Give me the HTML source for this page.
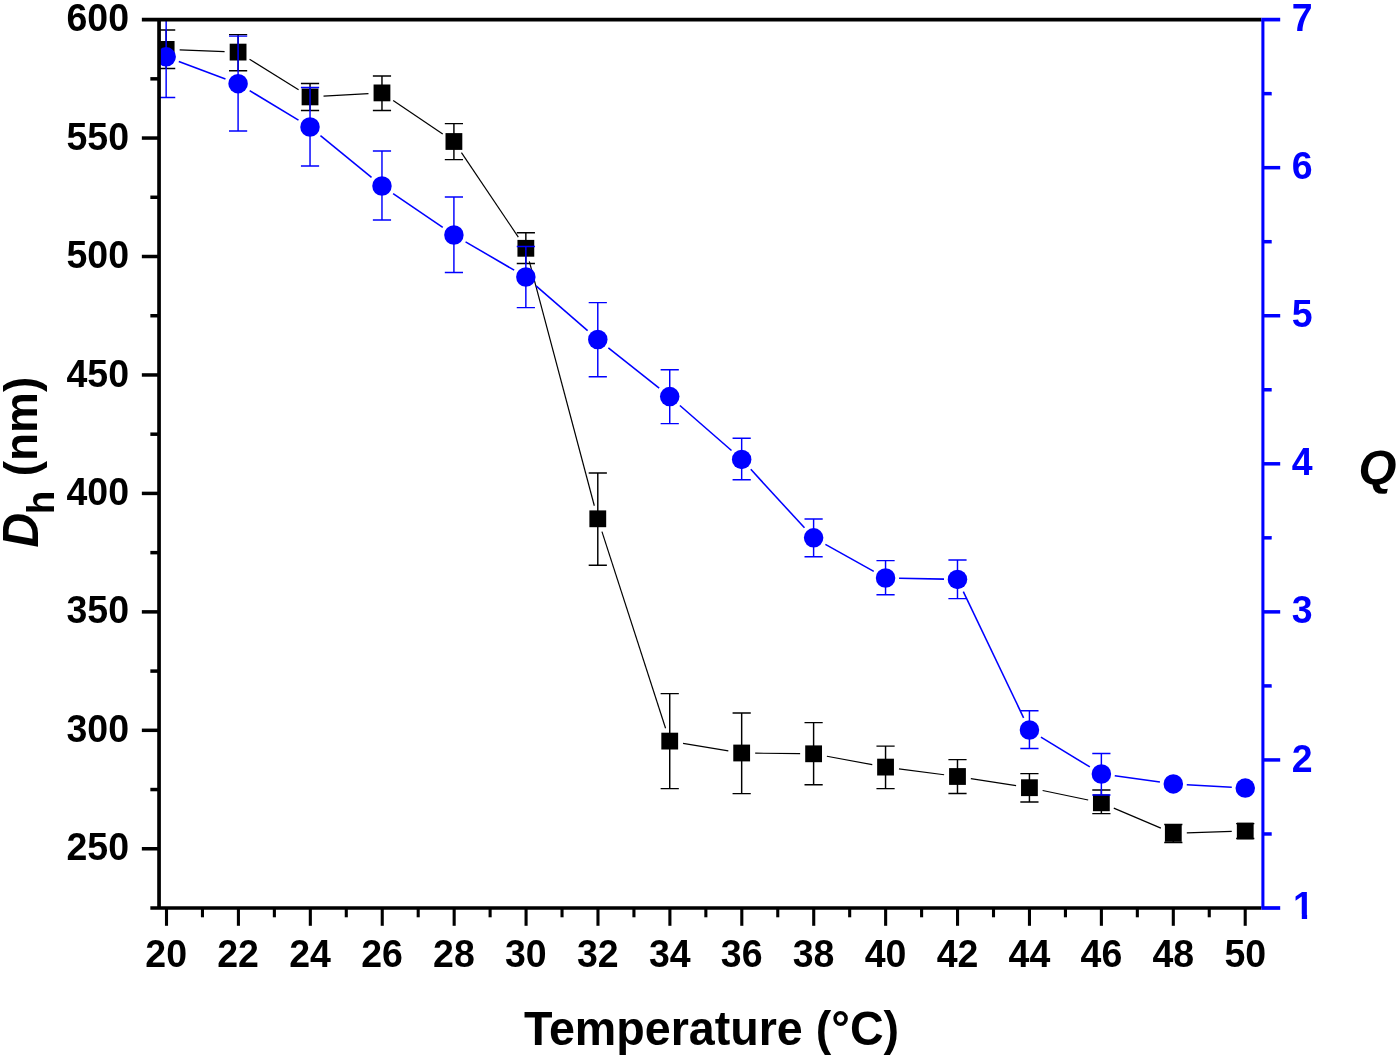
<!DOCTYPE html>
<html lang="en"><head><meta charset="utf-8"><title>Dh and Q versus Temperature</title>
<style>
html,body{margin:0;padding:0;background:#fff;}
body{width:1400px;height:1057px;overflow:hidden;}
svg{display:block;}
text{font-family:'Liberation Sans', Arial, Helvetica, sans-serif;font-weight:bold;}
.tk{font-size:37.5px;}
.ti{font-size:46px;}
</style></head><body>
<svg width="1400" height="1057" viewBox="0 0 1400 1057">
<rect width="1400" height="1057" fill="#fff"/>
<defs><clipPath id="one"><path d="M1285 880H1325V914.6H1307.1V925H1301.8V914.6H1285Z"/></clipPath><clipPath id="plot"><rect x="159.05" y="19.60" width="1103.95" height="888.40"/></clipPath></defs>
<g clip-path="url(#plot)" stroke="#000" fill="#000">
<line x1="179.64" y1="49.91" x2="224.60" y2="51.59" stroke-width="1.20"/>
<line x1="249.55" y1="59.24" x2="298.57" y2="89.76" stroke-width="1.20"/>
<line x1="323.51" y1="96.15" x2="368.49" y2="93.65" stroke-width="1.20"/>
<line x1="393.16" y1="100.46" x2="442.72" y2="133.94" stroke-width="1.20"/>
<line x1="461.45" y1="152.70" x2="518.31" y2="237.10" stroke-width="1.20"/>
<line x1="529.32" y1="261.35" x2="594.32" y2="505.75" stroke-width="1.20"/>
<line x1="601.95" y1="531.64" x2="665.57" y2="728.26" stroke-width="1.20"/>
<line x1="683.05" y1="743.30" x2="728.35" y2="750.80" stroke-width="1.20"/>
<line x1="755.17" y1="753.15" x2="800.11" y2="753.65" stroke-width="1.20"/>
<line x1="826.89" y1="756.25" x2="872.27" y2="764.65" stroke-width="1.20"/>
<line x1="898.94" y1="768.85" x2="944.10" y2="774.75" stroke-width="1.20"/>
<line x1="970.83" y1="778.58" x2="1016.09" y2="785.62" stroke-width="1.20"/>
<line x1="1042.64" y1="790.47" x2="1088.16" y2="800.03" stroke-width="1.20"/>
<line x1="1113.79" y1="808.08" x2="1160.89" y2="828.12" stroke-width="1.20"/>
<line x1="1186.80" y1="832.95" x2="1231.76" y2="831.45" stroke-width="1.20"/>
<path d="M166.15 29.90V68.50M157.05 29.90H175.25M157.05 68.50H175.25" fill="none" stroke-width="1.45"/>
<path d="M238.09 34.60V70.70M228.99 34.60H247.19M228.99 70.70H247.19" fill="none" stroke-width="1.45"/>
<path d="M310.03 83.40V110.40M300.93 83.40H319.13M300.93 110.40H319.13" fill="none" stroke-width="1.45"/>
<path d="M381.97 76.00V110.40M372.87 76.00H391.07M372.87 110.40H391.07" fill="none" stroke-width="1.45"/>
<path d="M453.91 123.60V159.60M444.81 123.60H463.01M444.81 159.60H463.01" fill="none" stroke-width="1.45"/>
<path d="M525.85 232.80V263.40M516.75 232.80H534.95M516.75 263.40H534.95" fill="none" stroke-width="1.45"/>
<path d="M597.79 473.00V565.20M588.69 473.00H606.89M588.69 565.20H606.89" fill="none" stroke-width="1.45"/>
<path d="M669.73 693.60V788.60M660.63 693.60H678.83M660.63 788.60H678.83" fill="none" stroke-width="1.45"/>
<path d="M741.67 713.00V793.60M732.57 713.00H750.77M732.57 793.60H750.77" fill="none" stroke-width="1.45"/>
<path d="M813.61 722.60V784.80M804.51 722.60H822.71M804.51 784.80H822.71" fill="none" stroke-width="1.45"/>
<path d="M885.55 746.10V788.60M876.45 746.10H894.65M876.45 788.60H894.65" fill="none" stroke-width="1.45"/>
<path d="M957.49 759.60V793.40M948.39 759.60H966.59M948.39 793.40H966.59" fill="none" stroke-width="1.45"/>
<path d="M1029.43 773.60V802.00M1020.33 773.60H1038.53M1020.33 802.00H1038.53" fill="none" stroke-width="1.45"/>
<path d="M1101.37 790.00V813.60M1092.27 790.00H1110.47M1092.27 813.60H1110.47" fill="none" stroke-width="1.45"/>
<path d="M1173.31 824.40V842.40M1164.21 824.40H1182.41M1164.21 842.40H1182.41" fill="none" stroke-width="1.45"/>
<path d="M1245.25 823.60V838.40M1236.15 823.60H1254.35M1236.15 838.40H1254.35" fill="none" stroke-width="1.45"/>
<rect x="157.75" y="41.00" width="16.80" height="16.80" stroke="none"/>
<rect x="229.69" y="43.70" width="16.80" height="16.80" stroke="none"/>
<rect x="301.63" y="88.50" width="16.80" height="16.80" stroke="none"/>
<rect x="373.57" y="84.50" width="16.80" height="16.80" stroke="none"/>
<rect x="445.51" y="133.10" width="16.80" height="16.80" stroke="none"/>
<rect x="517.45" y="239.90" width="16.80" height="16.80" stroke="none"/>
<rect x="589.39" y="510.40" width="16.80" height="16.80" stroke="none"/>
<rect x="661.33" y="732.70" width="16.80" height="16.80" stroke="none"/>
<rect x="733.27" y="744.60" width="16.80" height="16.80" stroke="none"/>
<rect x="805.21" y="745.40" width="16.80" height="16.80" stroke="none"/>
<rect x="877.15" y="758.70" width="16.80" height="16.80" stroke="none"/>
<rect x="949.09" y="768.10" width="16.80" height="16.80" stroke="none"/>
<rect x="1021.03" y="779.30" width="16.80" height="16.80" stroke="none"/>
<rect x="1092.97" y="794.40" width="16.80" height="16.80" stroke="none"/>
<rect x="1164.91" y="825.00" width="16.80" height="16.80" stroke="none"/>
<rect x="1236.85" y="822.60" width="16.80" height="16.80" stroke="none"/>
</g>
<g clip-path="url(#plot)" stroke="#0000ff" fill="#0000ff">
<line x1="178.79" y1="61.53" x2="225.45" y2="78.97" stroke-width="1.55"/>
<line x1="249.66" y1="90.66" x2="298.46" y2="120.04" stroke-width="1.55"/>
<line x1="320.47" y1="135.56" x2="371.53" y2="177.44" stroke-width="1.55"/>
<line x1="393.13" y1="193.60" x2="442.75" y2="227.40" stroke-width="1.55"/>
<line x1="465.57" y1="241.81" x2="514.19" y2="270.19" stroke-width="1.55"/>
<line x1="536.04" y1="285.85" x2="587.60" y2="330.65" stroke-width="1.55"/>
<line x1="608.36" y1="347.89" x2="659.16" y2="388.21" stroke-width="1.55"/>
<line x1="679.90" y1="405.48" x2="731.50" y2="450.52" stroke-width="1.55"/>
<line x1="750.80" y1="469.35" x2="804.48" y2="527.85" stroke-width="1.55"/>
<line x1="825.39" y1="544.39" x2="873.77" y2="571.41" stroke-width="1.55"/>
<line x1="899.05" y1="578.26" x2="943.99" y2="579.14" stroke-width="1.55"/>
<line x1="963.31" y1="591.58" x2="1023.61" y2="717.82" stroke-width="1.55"/>
<line x1="1040.95" y1="737.04" x2="1089.85" y2="766.96" stroke-width="1.55"/>
<line x1="1114.74" y1="775.84" x2="1159.94" y2="782.06" stroke-width="1.55"/>
<line x1="1186.79" y1="784.69" x2="1231.77" y2="787.31" stroke-width="1.55"/>
<path d="M166.15 16.10V97.50M157.05 16.10H175.25M157.05 97.50H175.25" fill="none" stroke-width="1.45"/>
<path d="M238.09 36.10V131.00M228.99 36.10H247.19M228.99 131.00H247.19" fill="none" stroke-width="1.45"/>
<path d="M310.03 87.40V166.00M300.93 87.40H319.13M300.93 166.00H319.13" fill="none" stroke-width="1.45"/>
<path d="M381.97 151.00V220.00M372.87 151.00H391.07M372.87 220.00H391.07" fill="none" stroke-width="1.45"/>
<path d="M453.91 197.00V272.40M444.81 197.00H463.01M444.81 272.40H463.01" fill="none" stroke-width="1.45"/>
<path d="M525.85 246.40V307.60M516.75 246.40H534.95M516.75 307.60H534.95" fill="none" stroke-width="1.45"/>
<path d="M597.79 302.60V376.80M588.69 302.60H606.89M588.69 376.80H606.89" fill="none" stroke-width="1.45"/>
<path d="M669.73 369.80V423.60M660.63 369.80H678.83M660.63 423.60H678.83" fill="none" stroke-width="1.45"/>
<path d="M741.67 438.20V479.80M732.57 438.20H750.77M732.57 479.80H750.77" fill="none" stroke-width="1.45"/>
<path d="M813.61 519.00V556.70M804.51 519.00H822.71M804.51 556.70H822.71" fill="none" stroke-width="1.45"/>
<path d="M885.55 560.60V594.80M876.45 560.60H894.65M876.45 594.80H894.65" fill="none" stroke-width="1.45"/>
<path d="M957.49 560.00V598.60M948.39 560.00H966.59M948.39 598.60H966.59" fill="none" stroke-width="1.45"/>
<path d="M1029.43 710.80V748.40M1020.33 710.80H1038.53M1020.33 748.40H1038.53" fill="none" stroke-width="1.45"/>
<path d="M1101.37 753.40V795.00M1092.27 753.40H1110.47M1092.27 795.00H1110.47" fill="none" stroke-width="1.45"/>
<circle cx="166.15" cy="56.80" r="9.75" stroke="none"/>
<circle cx="238.09" cy="83.70" r="9.75" stroke="none"/>
<circle cx="310.03" cy="127.00" r="9.75" stroke="none"/>
<circle cx="381.97" cy="186.00" r="9.75" stroke="none"/>
<circle cx="453.91" cy="235.00" r="9.75" stroke="none"/>
<circle cx="525.85" cy="277.00" r="9.75" stroke="none"/>
<circle cx="597.79" cy="339.50" r="9.75" stroke="none"/>
<circle cx="669.73" cy="396.60" r="9.75" stroke="none"/>
<circle cx="741.67" cy="459.40" r="9.75" stroke="none"/>
<circle cx="813.61" cy="537.80" r="9.75" stroke="none"/>
<circle cx="885.55" cy="578.00" r="9.75" stroke="none"/>
<circle cx="957.49" cy="579.40" r="9.75" stroke="none"/>
<circle cx="1029.43" cy="730.00" r="9.75" stroke="none"/>
<circle cx="1101.37" cy="774.00" r="9.75" stroke="none"/>
<circle cx="1173.31" cy="783.90" r="9.75" stroke="none"/>
<circle cx="1245.25" cy="788.10" r="9.75" stroke="none"/>
</g>
<g stroke="#000" stroke-width="3.70" fill="none">
<line x1="141.85" y1="19.60" x2="1261.40" y2="19.60"/>
<line x1="159.05" y1="19.60" x2="159.05" y2="908.00"/>
<line x1="150.35" y1="908.00" x2="1261.40" y2="908.00"/>
<line x1="141.85" y1="848.77" x2="159.05" y2="848.77" stroke-width="3.5"/>
<line x1="141.85" y1="730.32" x2="159.05" y2="730.32" stroke-width="3.5"/>
<line x1="141.85" y1="611.87" x2="159.05" y2="611.87" stroke-width="3.5"/>
<line x1="141.85" y1="493.41" x2="159.05" y2="493.41" stroke-width="3.5"/>
<line x1="141.85" y1="374.96" x2="159.05" y2="374.96" stroke-width="3.5"/>
<line x1="141.85" y1="256.51" x2="159.05" y2="256.51" stroke-width="3.5"/>
<line x1="141.85" y1="138.05" x2="159.05" y2="138.05" stroke-width="3.5"/>
<line x1="150.35" y1="789.55" x2="159.05" y2="789.55" stroke-width="3.5"/>
<line x1="150.35" y1="671.09" x2="159.05" y2="671.09" stroke-width="3.5"/>
<line x1="150.35" y1="552.64" x2="159.05" y2="552.64" stroke-width="3.5"/>
<line x1="150.35" y1="434.19" x2="159.05" y2="434.19" stroke-width="3.5"/>
<line x1="150.35" y1="315.73" x2="159.05" y2="315.73" stroke-width="3.5"/>
<line x1="150.35" y1="197.28" x2="159.05" y2="197.28" stroke-width="3.5"/>
<line x1="150.35" y1="78.83" x2="159.05" y2="78.83" stroke-width="3.5"/>
<line x1="166.50" y1="908.00" x2="166.50" y2="925.80" stroke-width="3.1"/>
<line x1="202.46" y1="908.00" x2="202.46" y2="917.30" stroke-width="3.1"/>
<line x1="238.41" y1="908.00" x2="238.41" y2="925.80" stroke-width="3.1"/>
<line x1="274.37" y1="908.00" x2="274.37" y2="917.30" stroke-width="3.1"/>
<line x1="310.33" y1="908.00" x2="310.33" y2="925.80" stroke-width="3.1"/>
<line x1="346.28" y1="908.00" x2="346.28" y2="917.30" stroke-width="3.1"/>
<line x1="382.24" y1="908.00" x2="382.24" y2="925.80" stroke-width="3.1"/>
<line x1="418.20" y1="908.00" x2="418.20" y2="917.30" stroke-width="3.1"/>
<line x1="454.16" y1="908.00" x2="454.16" y2="925.80" stroke-width="3.1"/>
<line x1="490.11" y1="908.00" x2="490.11" y2="917.30" stroke-width="3.1"/>
<line x1="526.07" y1="908.00" x2="526.07" y2="925.80" stroke-width="3.1"/>
<line x1="562.03" y1="908.00" x2="562.03" y2="917.30" stroke-width="3.1"/>
<line x1="597.98" y1="908.00" x2="597.98" y2="925.80" stroke-width="3.1"/>
<line x1="633.94" y1="908.00" x2="633.94" y2="917.30" stroke-width="3.1"/>
<line x1="669.90" y1="908.00" x2="669.90" y2="925.80" stroke-width="3.1"/>
<line x1="705.86" y1="908.00" x2="705.86" y2="917.30" stroke-width="3.1"/>
<line x1="741.81" y1="908.00" x2="741.81" y2="925.80" stroke-width="3.1"/>
<line x1="777.77" y1="908.00" x2="777.77" y2="917.30" stroke-width="3.1"/>
<line x1="813.73" y1="908.00" x2="813.73" y2="925.80" stroke-width="3.1"/>
<line x1="849.68" y1="908.00" x2="849.68" y2="917.30" stroke-width="3.1"/>
<line x1="885.64" y1="908.00" x2="885.64" y2="925.80" stroke-width="3.1"/>
<line x1="921.60" y1="908.00" x2="921.60" y2="917.30" stroke-width="3.1"/>
<line x1="957.55" y1="908.00" x2="957.55" y2="925.80" stroke-width="3.1"/>
<line x1="993.51" y1="908.00" x2="993.51" y2="917.30" stroke-width="3.1"/>
<line x1="1029.47" y1="908.00" x2="1029.47" y2="925.80" stroke-width="3.1"/>
<line x1="1065.43" y1="908.00" x2="1065.43" y2="917.30" stroke-width="3.1"/>
<line x1="1101.38" y1="908.00" x2="1101.38" y2="925.80" stroke-width="3.1"/>
<line x1="1137.34" y1="908.00" x2="1137.34" y2="917.30" stroke-width="3.1"/>
<line x1="1173.30" y1="908.00" x2="1173.30" y2="925.80" stroke-width="3.1"/>
<line x1="1209.25" y1="908.00" x2="1209.25" y2="917.30" stroke-width="3.1"/>
<line x1="1245.21" y1="908.00" x2="1245.21" y2="925.80" stroke-width="3.1"/>
</g>
<g stroke="#0000ff" stroke-width="3.70" fill="none">
<line x1="1262.90" y1="19.60" x2="1262.90" y2="908.00" stroke-width="3.05"/>
<line x1="1261.40" y1="908.00" x2="1280.20" y2="908.00" stroke-width="3.70"/>
<line x1="1263.00" y1="759.93" x2="1280.20" y2="759.93" stroke-width="3.50"/>
<line x1="1263.00" y1="611.87" x2="1280.20" y2="611.87" stroke-width="3.50"/>
<line x1="1263.00" y1="463.80" x2="1280.20" y2="463.80" stroke-width="3.50"/>
<line x1="1263.00" y1="315.73" x2="1280.20" y2="315.73" stroke-width="3.50"/>
<line x1="1263.00" y1="167.67" x2="1280.20" y2="167.67" stroke-width="3.50"/>
<line x1="1261.40" y1="19.60" x2="1280.20" y2="19.60" stroke-width="3.70"/>
<line x1="1263.00" y1="833.97" x2="1271.70" y2="833.97" stroke-width="3.5"/>
<line x1="1263.00" y1="685.90" x2="1271.70" y2="685.90" stroke-width="3.5"/>
<line x1="1263.00" y1="537.83" x2="1271.70" y2="537.83" stroke-width="3.5"/>
<line x1="1263.00" y1="389.77" x2="1271.70" y2="389.77" stroke-width="3.5"/>
<line x1="1263.00" y1="241.70" x2="1271.70" y2="241.70" stroke-width="3.5"/>
<line x1="1263.00" y1="93.63" x2="1271.70" y2="93.63" stroke-width="3.5"/>
</g>
<g class="tk" fill="#000" text-anchor="end">
<text transform="translate(129.00 860.37) scale(1.0000 1.0550)">250</text>
<text transform="translate(129.00 741.92) scale(1.0000 1.0550)">300</text>
<text transform="translate(129.00 623.47) scale(1.0000 1.0550)">350</text>
<text transform="translate(129.00 505.01) scale(1.0000 1.0550)">400</text>
<text transform="translate(129.00 386.56) scale(1.0000 1.0550)">450</text>
<text transform="translate(129.00 268.11) scale(1.0000 1.0550)">500</text>
<text transform="translate(129.00 149.65) scale(1.0000 1.0550)">550</text>
<text transform="translate(129.00 31.20) scale(1.0000 1.0550)">600</text>
</g>
<g class="tk" fill="#000" text-anchor="middle">
<text transform="translate(166.15 966.90) scale(1.0000 1.0550)">20</text>
<text transform="translate(238.09 966.90) scale(1.0000 1.0550)">22</text>
<text transform="translate(310.03 966.90) scale(1.0000 1.0550)">24</text>
<text transform="translate(381.97 966.90) scale(1.0000 1.0550)">26</text>
<text transform="translate(453.91 966.90) scale(1.0000 1.0550)">28</text>
<text transform="translate(525.85 966.90) scale(1.0000 1.0550)">30</text>
<text transform="translate(597.79 966.90) scale(1.0000 1.0550)">32</text>
<text transform="translate(669.73 966.90) scale(1.0000 1.0550)">34</text>
<text transform="translate(741.67 966.90) scale(1.0000 1.0550)">36</text>
<text transform="translate(813.61 966.90) scale(1.0000 1.0550)">38</text>
<text transform="translate(885.55 966.90) scale(1.0000 1.0550)">40</text>
<text transform="translate(957.49 966.90) scale(1.0000 1.0550)">42</text>
<text transform="translate(1029.43 966.90) scale(1.0000 1.0550)">44</text>
<text transform="translate(1101.37 966.90) scale(1.0000 1.0550)">46</text>
<text transform="translate(1173.31 966.90) scale(1.0000 1.0550)">48</text>
<text transform="translate(1245.25 966.90) scale(1.0000 1.0550)">50</text>
</g>
<g class="tk" fill="#0000ff" text-anchor="start">
<text transform="translate(1291.70 771.53) scale(1.0000 1.0550)">2</text>
<text transform="translate(1291.70 623.47) scale(1.0000 1.0550)">3</text>
<text transform="translate(1291.70 475.40) scale(1.0000 1.0550)">4</text>
<text transform="translate(1291.70 327.33) scale(1.0000 1.0550)">5</text>
<text transform="translate(1291.70 179.27) scale(1.0000 1.0550)">6</text>
<text transform="translate(1291.70 31.20) scale(1.0000 1.0550)">7</text>
<g clip-path="url(#one)"><text transform="translate(1293.00 919.40) scale(1.0000 1.0550)">1</text></g>
</g>
<text class="ti" transform="translate(711.5 1044.6) scale(1.0136 1.034)" text-anchor="middle" fill="#000">Temperature (°C)</text>
<g class="ti" transform="translate(37.3 463) rotate(-90)" fill="#000">
<text transform="translate(-84.6 0.6) scale(1 1.04)" font-size="48" font-style="italic">D</text>
<text transform="translate(-51.3 16.7) scale(1 1.02)" font-size="38.5">h</text>
<text transform="translate(-13.3 -0.2)">(nm)</text>
</g>
<text class="ti" transform="translate(1358.6 484.4) scale(1.06 1.06)" font-style="italic" fill="#000">Q</text>
</svg></body></html>
